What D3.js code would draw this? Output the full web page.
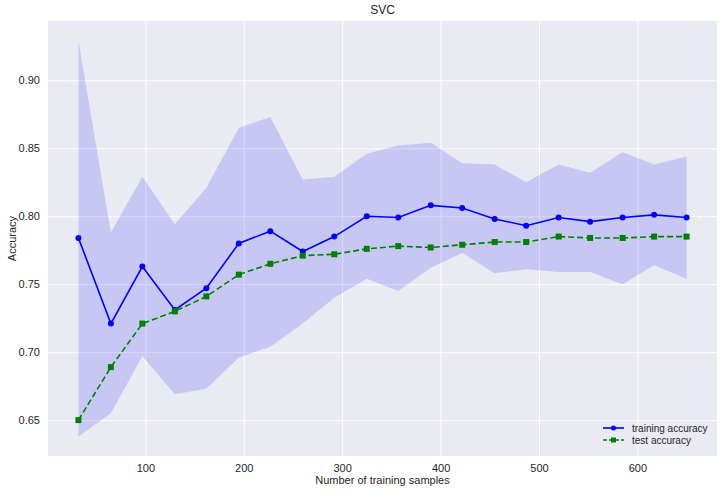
<!DOCTYPE html>
<html>
<head>
<meta charset="utf-8">
<script src="https://cdn.jsdelivr.net/npm/d3@7"></script>
<style>
  body { margin: 0; background: #fff; }
  text { font-family: "Liberation Sans", Arial, sans-serif; fill: #262626; }
</style>
</head>
<body>
<div id="chart"></div>
<script>
// training sizes
const sizes = [32, 65, 97, 130, 162, 195, 227, 260, 292, 325, 357, 390, 422, 455, 487, 520, 552, 585, 617, 650];
const trainMean = [0.784, 0.721, 0.763, 0.731, 0.747, 0.780, 0.789, 0.774, 0.785, 0.800, 0.799, 0.808, 0.806, 0.798, 0.793, 0.799, 0.796, 0.799, 0.801, 0.799];
const trainUpper = [0.929, 0.788, 0.829, 0.794, 0.821, 0.865, 0.873, 0.827, 0.829, 0.846, 0.852, 0.854, 0.839, 0.838, 0.825, 0.838, 0.832, 0.847, 0.838, 0.844];
const trainLower = [0.638, 0.655, 0.697, 0.669, 0.673, 0.696, 0.704, 0.721, 0.740, 0.754, 0.745, 0.762, 0.773, 0.758, 0.761, 0.759, 0.759, 0.750, 0.764, 0.754];
const testMean = [0.650, 0.689, 0.721, 0.730, 0.741, 0.757, 0.765, 0.771, 0.772, 0.776, 0.778, 0.777, 0.779, 0.781, 0.781, 0.785, 0.784, 0.784, 0.785, 0.785];
const xTicks = [100, 200, 300, 400, 500, 600];
const yTicks = [0.65, 0.70, 0.75, 0.80, 0.85, 0.90];

const W = 724, H = 493;
const pL = 48, pT = 21, pR = 717, pB = 456;

const svg = d3.select("#chart").append("svg").attr("width", W).attr("height", H);

const x = d3.scaleLinear().domain([1.1, 680.9]).range([pL, pR]);
const y = d3.scaleLinear().domain([0.6236, 0.9436]).range([pB, pT]);

svg.append("rect").attr("x", pL).attr("y", pT)
  .attr("width", pR - pL).attr("height", pB - pT).attr("fill", "#EAEAF2");

// Gridlines
svg.append("g").attr("transform", `translate(0,${pB})`)
  .call(d3.axisBottom(x).tickValues(xTicks).tickSize(-(pB - pT)).tickFormat(d3.format("d")).tickPadding(6))
  .call(g => g.select(".domain").remove())
  .call(g => g.selectAll("line").attr("stroke", "#fff").attr("stroke-width", 1))
  .call(g => g.selectAll("text").style("font-size", "11px").attr("fill", "#262626").attr("dy", "0.9em"));

svg.append("g").attr("transform", `translate(${pL},0)`)
  .call(d3.axisLeft(y).tickValues(yTicks).tickSize(-(pR - pL)).tickFormat(d3.format(".2f")).tickPadding(8))
  .call(g => g.select(".domain").remove())
  .call(g => g.selectAll("line").attr("stroke", "#fff").attr("stroke-width", 1))
  .call(g => g.selectAll("text").style("font-size", "11px").attr("fill", "#262626"));

const rows = sizes.map((s, i) => ({ s, tr: trainMean[i], up: trainUpper[i], lo: trainLower[i], te: testMean[i] }));

// band
svg.append("path").datum(rows)
  .attr("d", d3.area().x(d => x(d.s)).y0(d => y(d.lo)).y1(d => y(d.up)))
  .attr("fill", "blue").attr("fill-opacity", 0.15);

// training line
svg.append("path").datum(rows)
  .attr("d", d3.line().x(d => x(d.s)).y(d => y(d.tr)))
  .attr("fill", "none").attr("stroke", "blue").attr("stroke-width", 1.6);
svg.selectAll("circle.tr").data(rows).enter().append("circle")
  .attr("class", "tr").attr("cx", d => x(d.s)).attr("cy", d => y(d.tr)).attr("r", 3).attr("fill", "blue");

// test line
svg.append("path").datum(rows)
  .attr("d", d3.line().x(d => x(d.s)).y(d => y(d.te)))
  .attr("fill", "none").attr("stroke", "green").attr("stroke-width", 1.6).attr("stroke-dasharray", "6,3");
svg.selectAll("rect.te").data(rows).enter().append("rect")
  .attr("class", "te").attr("x", d => x(d.s) - 3).attr("y", d => y(d.te) - 3)
  .attr("width", 6).attr("height", 6).attr("fill", "green");

// Title and labels
svg.append("text").attr("x", (pL + pR) / 2).attr("y", 14).attr("text-anchor", "middle")
  .style("font-size", "12px").text("SVC");
svg.append("text").attr("x", (pL + pR) / 2).attr("y", 484).attr("text-anchor", "middle")
  .style("font-size", "11px").text("Number of training samples");
svg.append("text").attr("transform", `translate(16,${(pT + pB) / 2}) rotate(-90)`)
  .attr("text-anchor", "middle").style("font-size", "11px").text("Accuracy");

// Legend
const legendItems = [
  { label: "training accuracy", color: "blue", dash: null, shape: "circle" },
  { label: "test accuracy", color: "green", dash: "4,2", shape: "square" }
];
const legend = svg.append("g").attr("transform", "translate(603,428)");
legendItems.forEach((it, i) => {
  const g = legend.append("g").attr("transform", `translate(0,${i * 12})`);
  g.append("line").attr("x1", 0).attr("x2", 21).attr("y1", 0).attr("y2", 0)
    .attr("stroke", it.color).attr("stroke-width", 1.6).attr("stroke-dasharray", it.dash);
  if (it.shape === "circle") g.append("circle").attr("cx", 10.5).attr("cy", 0).attr("r", 2.5).attr("fill", it.color);
  else g.append("rect").attr("x", 8).attr("y", -2.5).attr("width", 5).attr("height", 5).attr("fill", it.color);
  g.append("text").attr("x", 29).attr("y", 0).attr("dy", "0.35em").style("font-size", "10px").text(it.label);
});
</script>
</body>
</html>
